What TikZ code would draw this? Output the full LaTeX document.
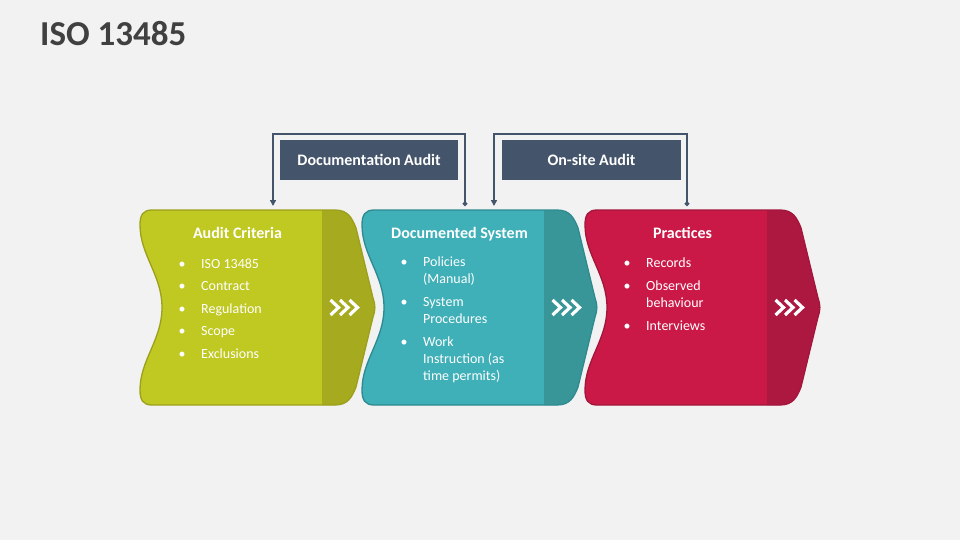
\documentclass[tikz,border=0pt]{standalone}
\usepackage{fontspec}
\setmainfont{Carlito}
\usetikzlibrary{arrows.meta}

\definecolor{bg}{HTML}{F2F2F2}
\definecolor{titlegray}{HTML}{404040}
\definecolor{slate}{HTML}{44546A}
\definecolor{limefill}{HTML}{C0C822}
\definecolor{limedark}{HTML}{A6AA1E}
\definecolor{limeline}{HTML}{9CA01C}
\definecolor{tealfill}{HTML}{3FAFB8}
\definecolor{tealdark}{HTML}{389699}
\definecolor{tealline}{HTML}{2F8A90}
\definecolor{redfill}{HTML}{CB1947}
\definecolor{reddark}{HTML}{AC1840}
\definecolor{redline}{HTML}{A3163C}

\newcommand{\bul}{\makebox[22.5pt][l]{\textbullet}}
\newcommand{\ind}{\hspace*{22.5pt}}

\begin{document}
\begin{tikzpicture}[x=1pt, y=-1pt,
    heading/.style={text=white, inner sep=0pt, font=\fontsize{16}{19}\selectfont\bfseries},
    list/.style={text=white, inner sep=0pt, align=left, font=\fontsize{14}{17}\selectfont},
    auditbox/.style={fill=slate, text=white, minimum height=40pt, inner sep=0pt, font=\fontsize{16}{19}\selectfont\bfseries},
    link/.style={draw=slate, line width=1.5pt, {Circle[length=4.5pt]}-{Triangle[length=6pt,width=6pt]}},
    chev/.style={white, line width=3.2pt}]
    \useasboundingbox[fill=bg] (0,0) rectangle (960,540);

    \node[anchor=base west, inner sep=0pt, text=titlegray, font=\fontsize{35}{42}\selectfont\bfseries] (title) at (40,46) {ISO 13485};

    % the three stages
    \foreach \ox/\fc/\sc/\lc in {140/limefill/limedark/limeline, 362/tealfill/tealdark/tealline, 585/redfill/reddark/redline} {
        \begin{scope}[shift={(\ox,0)}]
            \path[save path=\stagepath] (12,210) -- (195,210) .. controls (208,210) and (212,218) .. (216,228)
                -- (233,298) .. controls (235.5,305) and (235.5,310) .. (233,317) -- (216,387)
                .. controls (212,397) and (208,405) .. (195,405) -- (12,405) .. controls (3,405) and (0,400) .. (0,390)
                .. controls (0,360) and (22,340) .. (22,307.5) .. controls (22,275) and (0,255) .. (0,225)
                .. controls (0,215) and (3,210) .. (12,210) -- cycle;
            \fill[\fc, use path=\stagepath];
            \begin{scope}
                \clip[use path=\stagepath];
                \fill[\sc] (182,200) rectangle (245,415);
            \end{scope}
            \draw[\lc, line width=1.3pt, use path=\stagepath];
            \foreach \i in {0,1,2}
                \draw[chev] (190.5+9.5*\i,300) -- (198.5+9.5*\i,307.5) -- (190.5+9.5*\i,315);
        \end{scope}
    }

    \node[heading, anchor=base] (crit head) at (237.5,238) {Audit Criteria};
    \node[heading, anchor=base] (sys head) at (459.5,238) {Documented System};
    \node[heading, anchor=base] (prac head) at (682.5,238) {Practices};

    % lists, placed by the baseline of their last line
    \node[list, anchor=base west] (crit list) at (178.5,358) {\bul ISO 13485\\[5.5pt] \bul Contract\\[5.5pt] \bul Regulation\\[5.5pt] \bul Scope\\[5.5pt] \bul Exclusions};
    \node[list, anchor=base west] (sys list) at (400.5,380) {\bul Policies\\ \ind (Manual)\\[6pt] \bul System\\ \ind Procedures\\[6pt] \bul Work\\ \ind Instruction (as\\ \ind time permits)};
    \node[list, anchor=base west] (prac list) at (623.5,330.5) {\bul Records\\[6pt] \bul Observed\\ \ind behaviour\\[6pt] \bul Interviews};

    \node[auditbox, minimum width=178pt] (doc audit) at (369,160) {Documentation Audit};
    \node[auditbox, minimum width=179pt] (site audit) at (591.5,160) {On-site Audit};

    \coordinate (crit top) at (273,206);
    \coordinate (sys top a) at (465,206);
    \coordinate (sys top b) at (494,206);
    \coordinate (prac top) at (687,206);

    \draw[link] (sys top a) -- ++(0,-72) -| (crit top);
    \draw[link] (prac top) -- ++(0,-72) -| (sys top b);
\end{tikzpicture}
\end{document}
